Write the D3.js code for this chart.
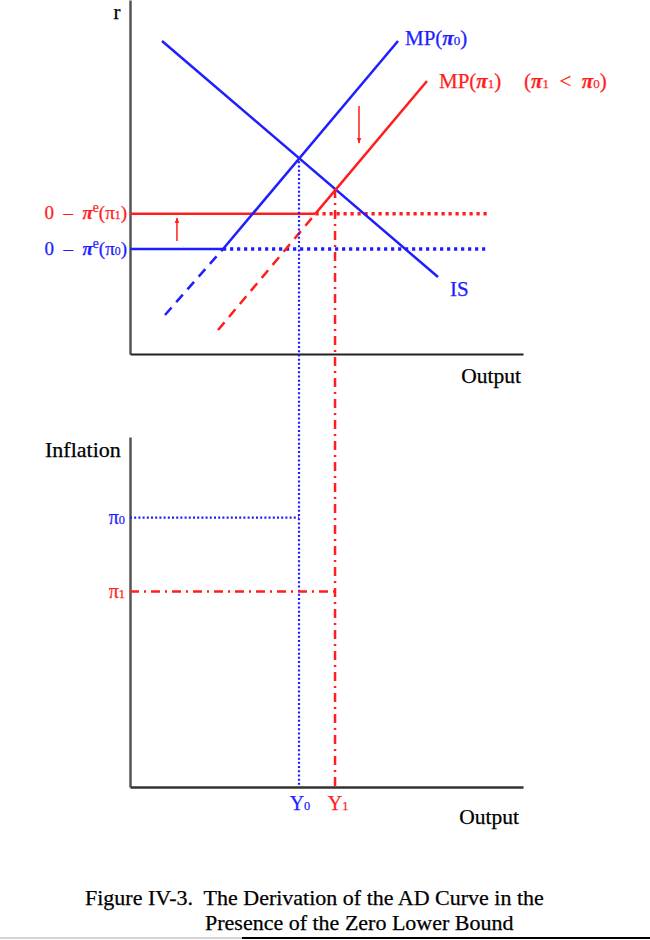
<!DOCTYPE html>
<html>
<head>
<meta charset="utf-8">
<script src="https://cdn.jsdelivr.net/npm/d3@7"></script>
<style>
body { margin: 0; background: #fff; }
svg text { font-family: "Liberation Serif", "Times New Roman", serif; white-space: pre; }
</style>
</head>
<body>
<svg id="chart"></svg>
<script>
const BLUE = "#1e1eff", RED = "#ff1e1e";

// upper panel (real rate vs output), abstract units
const isCurve = [[3.26, 31.83], [31.35, 7.83]];
const mp0Solid = [[9.47, 10.68], [27.28, 31.83]];
const mp0Dashed = [[3.56, 3.97], [9.47, 10.68]];
const mp1Solid = [[18.88, 14.27], [30.23, 27.76]];
const mp1Dashed = [[8.96, 2.44], [18.88, 14.27]];
const zlbRates = [10.68, 14.27];      // 0 - pi^e(pi0), 0 - pi^e(pi1)
const zlbKinks = [9.47, 18.88];       // where each MP leaves the floor
const zlbEnd = 36.5;
const outputs = [17.2, 20.87];        // Y0, Y1
const eqRates = [20.03, 16.78];       // r at each equilibrium
// lower panel
const inflation = [27.7, 20.1];       // pi0, pi1
// shift arrows
const arrowUp = [[4.78, 11.49], [4.78, 13.83]];
const arrowDown = [[23.31, 25.22], [23.31, 21.46]];

const svg = d3.select("#chart").attr("width", 650).attr("height", 940);

const x = d3.scaleLinear().domain([0, 40]).range([130, 523]);
const yTop = d3.scaleLinear().domain([0, 36]).range([354, 0]);
const yBot = d3.scaleLinear().domain([0, 36]).range([787, 437]);

const defs = svg.append("defs");
defs.append("marker")
    .attr("id", "head")
    .attr("viewBox", "0 0 10 10")
    .attr("refX", 9).attr("refY", 5)
    .attr("markerWidth", 4).attr("markerHeight", 4)
    .attr("orient", "auto")
    .append("path").attr("d", "M0,1L10,5L0,9Z").attr("fill", RED);

// axes: bare domain lines, no ticks
function axis(gen, transform, color, width) {
    const g = svg.append("g").attr("transform", transform).call(gen.ticks(0).tickSizeOuter(0));
    g.select(".domain").attr("stroke", color).attr("stroke-width", width);
}
axis(d3.axisLeft(yTop), "translate(130,0)", "#555", 2.5);
axis(d3.axisBottom(x), "translate(0,354)", "#222", 2);
axis(d3.axisLeft(yBot), "translate(130,0)", "#555", 2.5);
axis(d3.axisBottom(x), "translate(0,787)", "#333", 2.5);

const lineTop = d3.line().x(d => x(d[0])).y(d => yTop(d[1]));
const lineBot = d3.line().x(d => x(d[0])).y(d => yBot(d[1]));
const linePx = d3.line();

function draw(d, color, width, dash) {
    return svg.append("path")
        .attr("d", d)
        .attr("fill", "none")
        .attr("stroke", color)
        .attr("stroke-width", width)
        .attr("stroke-dasharray", dash || null);
}

// floors: solid up to the kink, dotted after
zlbRates.forEach((r, i) => {
    const c = i === 0 ? BLUE : RED;
    draw(lineTop([[0, r], [zlbKinks[i], r]]), c, 2.5);
    draw(lineTop([[zlbKinks[i], r], [zlbEnd, r]]), c, 3.4, "3.2,3.8");
});

draw(lineTop(isCurve), BLUE, 2.5);
draw(lineTop(mp0Solid), BLUE, 2.5);
draw(lineTop(mp0Dashed), BLUE, 2.5, "10,7");
draw(lineTop(mp1Solid), RED, 2.5);
draw(lineTop(mp1Dashed), RED, 2.5, "10,7");

// drop lines from the equilibria into the lower panel
draw(linePx([[x(outputs[0]), yTop(eqRates[0])], [x(outputs[0]), yBot(0)]]), BLUE, 2.2, "2,2.2");
draw(linePx([[x(outputs[1]), yTop(eqRates[1])], [x(outputs[1]), yBot(0)]]), RED, 2.5, "9,5,2,5");

draw(lineBot([[0, inflation[0]], [outputs[0], inflation[0]]]), BLUE, 2.2, "2,2.2");
draw(lineBot([[0, inflation[1]], [outputs[1], inflation[1]]]), RED, 2.5, "9,5,2,5");

draw(lineTop(arrowUp), RED, 1.5).attr("marker-end", "url(#head)");
draw(lineTop(arrowDown), RED, 1.5).attr("marker-end", "url(#head)");

// text with sub/superscripts: parts are [text, kind]
function label(px, py, parts, color, size, anchor) {
    const t = svg.append("text")
        .attr("x", px).attr("y", py)
        .attr("fill", color)
        .attr("stroke", color)
        .attr("stroke-width", 0.25)
        .attr("font-size", size)
        .attr("text-anchor", anchor || "start");
    let raised = false;
    parts.forEach(([s, kind]) => {
        const ts = t.append("tspan").text(s);
        if (kind === "sub") ts.attr("font-size", size * 0.62);
        if (kind === "i") ts.attr("font-style", "italic").attr("font-weight", "bold");
        if (kind === "sup") {
            ts.attr("font-size", size * 0.72).attr("dy", -size * 0.38);
            raised = true;
        } else if (raised) {
            ts.attr("dy", size * 0.38);
            raised = false;
        }
    });
    return t;
}

label(117, 19, [["r"]], "#000", 21, "middle");
label(405, 45, [["MP("], ["\u03c0", "i"], ["0", "sub"], [")"]], BLUE, 21);
label(439, 88, [["MP("], ["\u03c0", "i"], ["1", "sub"], [")"]], RED, 21);
label(524, 88, [["("], ["\u03c0", "i"], ["1", "sub"], ["  <  "], ["\u03c0", "i"], ["0", "sub"], [")"]], RED, 21);
label(450, 296, [["IS"]], BLUE, 21);
label(521, 383, [["Output"]], "#000", 21.5, "end");

label(127, 219, [["0  \u2013  "], ["\u03c0", "i"], ["e", "sup"], ["(\u03c0"], ["1", "sub"], [")"]], RED, 19, "end");
label(127, 255, [["0  \u2013  "], ["\u03c0", "i"], ["e", "sup"], ["(\u03c0"], ["0", "sub"], [")"]], BLUE, 19, "end");

label(45, 457, [["Inflation"]], "#000", 22);
label(125, 524, [["\u03c0"], ["0", "sub"]], BLUE, 20, "end");
label(125, 598, [["\u03c0"], ["1", "sub"]], RED, 20, "end");
label(x(outputs[0]) + 1, 810, [["Y"], ["0", "sub"]], BLUE, 20, "middle");
label(x(outputs[1]) + 3, 810, [["Y"], ["1", "sub"]], RED, 20, "middle");
label(519, 824, [["Output"]], "#000", 21.5, "end");

label(85, 905, [["Figure IV-3.  The Derivation of the AD Curve in the"]], "#000", 22);
label(205, 930, [["Presence of the Zero Lower Bound"]], "#000", 22);

// page rule under the caption
svg.append("line").attr("x1", 0).attr("x2", 242).attr("y1", 938).attr("y2", 938)
    .attr("stroke", "#aaa").attr("stroke-width", 1.2);
svg.append("line").attr("x1", 242).attr("x2", 650).attr("y1", 938).attr("y2", 938)
    .attr("stroke", "#000").attr("stroke-width", 2);
</script>
</body>
</html>
